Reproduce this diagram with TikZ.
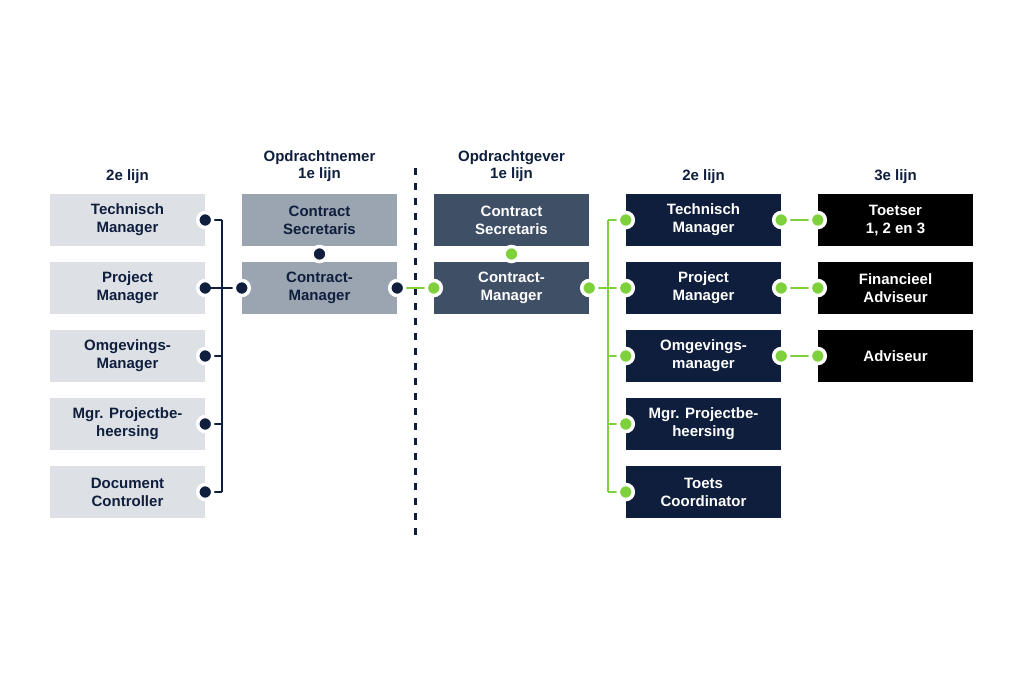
\documentclass[tikz,border=0pt]{standalone}
\usepackage{fontspec}
\setmainfont{Liberation Sans}
\begin{document}
\begin{tikzpicture}[x=1pt,y=-1pt,
 box/.style={minimum width=155pt,minimum height=52pt,inner sep=0pt,align=center,font=\bfseries\fontsize{15}{18}\selectfont},
 c1/.style={box,fill=colA,text=navy},
 c2/.style={box,fill=colB,text=navy},
 c3/.style={box,fill=colC,text=white},
 c4/.style={box,fill=navy,text=white},
 c5/.style={box,fill=black,text=white},
 hd/.style={font=\bfseries\fontsize{15}{17}\selectfont,text=navy,align=center},
 dn/.style={circle,fill=navy,draw=white,line width=3.5pt,minimum size=15pt,inner sep=0pt},
 dg/.style={circle,fill=grn,draw=white,line width=3.5pt,minimum size=15pt,inner sep=0pt},
 ln/.style={draw=navy,line width=1.5pt},
 lg/.style={draw=grn,line width=1.5pt}]
\definecolor{navy}{HTML}{0F1E3C}
\definecolor{colA}{HTML}{DDE1E6}
\definecolor{colB}{HTML}{9AA5B1}
\definecolor{colC}{HTML}{3F4F66}
\definecolor{grn}{HTML}{7ED13B}
\useasboundingbox (0,0) rectangle (1024,683);
\fill[white] (0,0) rectangle (1024,683);
% headers
\node[hd] (h1) at (127.5,177) {2e lijn};
\node[hd] (h2) at (319.5,166) {Opdrachtnemer\\1e lijn};
\node[hd] (h3) at (511.5,166) {Opdrachtgever\\1e lijn};
\node[hd] (h4) at (703.5,177) {2e lijn};
\node[hd] (h5) at (895.5,177) {3e lijn};
\draw[navy,line width=3pt,dash pattern=on 7pt off 8pt] (415,168) -- (415,536);
% boxes
\node[c1] (a1) at (127.5,220) {Technisch\\Manager};
\node[c1] (a2) at (127.5,288) {Project\\Manager};
\node[c1] (a3) at (127.5,356) {Omgevings-\\Manager};
\node[c1] (a4) at (127.5,424) {Mgr. Projectbe-\\heersing};
\node[c1] (a5) at (127.5,492) {Document\\Controller};
\node[c2] (b1) at (319.5,220) {Contract\\Secretaris};
\node[c2] (b2) at (319.5,288) {Contract-\\Manager};
\node[c3] (d1) at (511.5,220) {Contract\\Secretaris};
\node[c3] (d2) at (511.5,288) {Contract-\\Manager};
\node[c4] (e1) at (703.5,220) {Technisch\\Manager};
\node[c4] (e2) at (703.5,288) {Project\\Manager};
\node[c4] (e3) at (703.5,356) {Omgevings-\\manager};
\node[c4] (e4) at (703.5,424) {Mgr. Projectbe-\\heersing};
\node[c4] (e5) at (703.5,492) {Toets\\Coordinator};
\node[c5] (f1) at (895.5,220) {Toetser\\1, 2 en 3};
\node[c5] (f2) at (895.5,288) {Financieel\\Adviseur};
\node[c5] (f3) at (895.5,356) {Adviseur};
% left connectors
\coordinate (va) at (222,220); \coordinate (vb) at (222,492);
\draw[ln] (va) -- (vb);
\foreach \i in {1,...,5} {\draw[ln] (a\i.east) -- (a\i.east -| va); \node[dn] (ad\i) at (a\i.east) {};}
\draw[ln] (a2.east) -- (b2.west);
\node[dn] (bd2) at (b2.west) {};
\node[dn] (bs) at (319.5,254) {};
\draw[lg] (b2.east) -- (d2.west);
\node[dn] (bde) at (b2.east) {};
\node[dg] (dw) at (d2.west) {};
\node[dg] (ds) at (511.5,254) {};
% right connectors
\coordinate (vc) at (608,220); \coordinate (vd) at (608,492);
\draw[lg] (vc) -- (vd);
\draw[lg] (d2.east) -- (e2.west);
\node[dg] (dd) at (d2.east) {};
\foreach \i in {1,...,5} {\draw[lg] (e\i.west) -- (e\i.west -| vc); \node[dg] (ed\i) at (e\i.west) {};}
\foreach \i in {1,2,3} {\draw[lg] (e\i.east) -- (f\i.west); \node[dg] (er\i) at (e\i.east) {}; \node[dg] (fl\i) at (f\i.west) {};}
\end{tikzpicture}
\end{document}
